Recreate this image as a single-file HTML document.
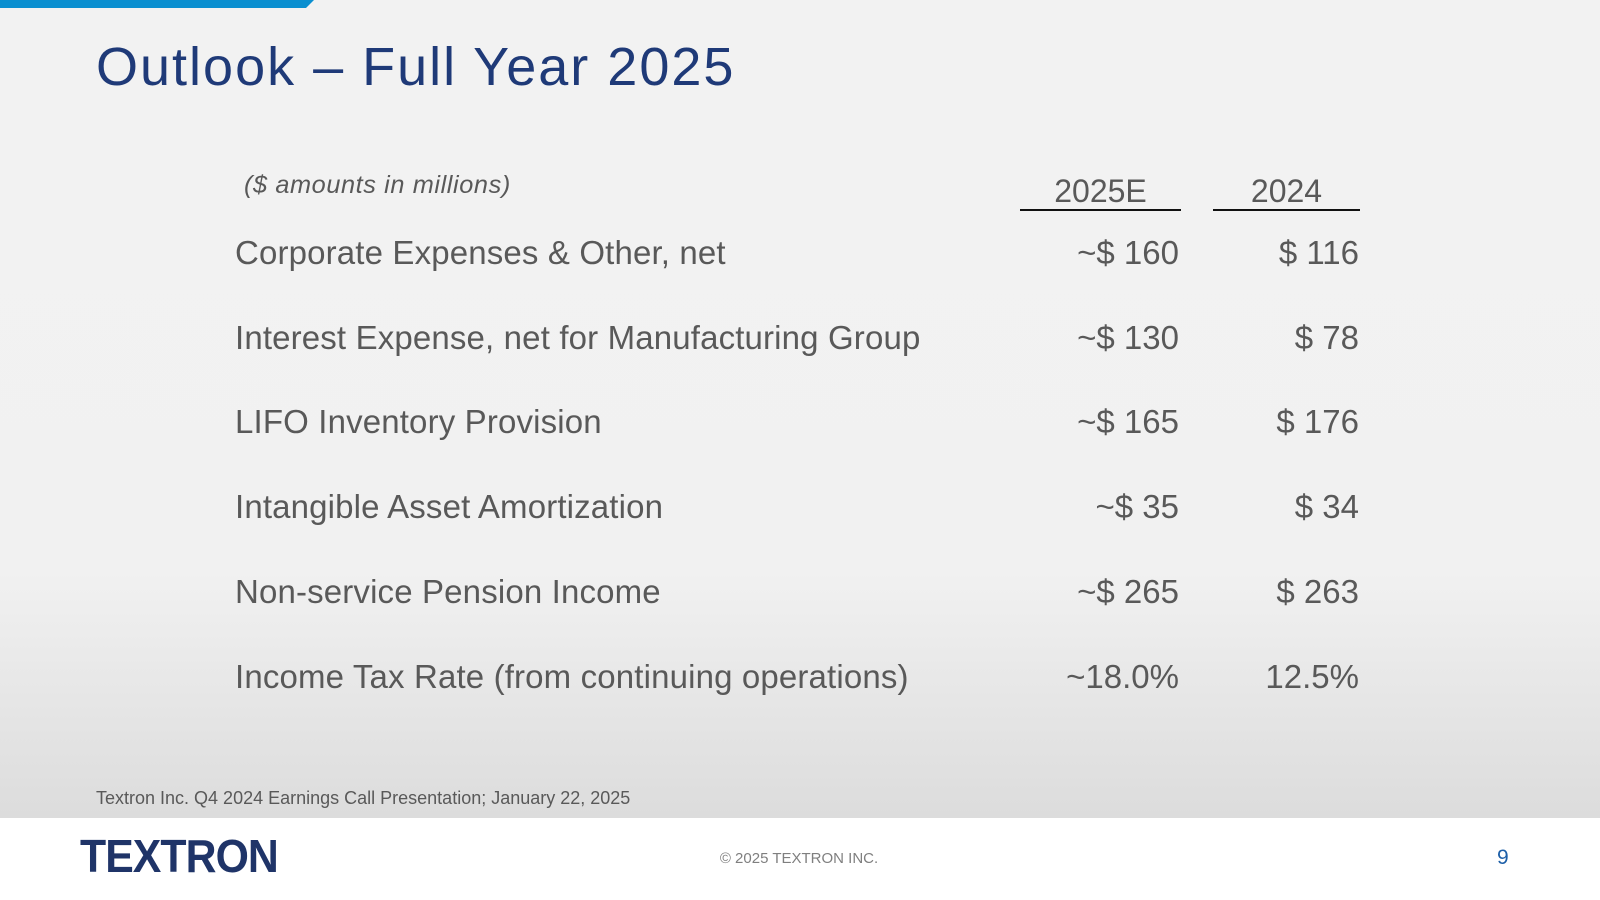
<!DOCTYPE html>
<html><head><meta charset="utf-8"><style>
body{margin:0;width:1600px;height:900px;overflow:hidden;font-family:"Liberation Sans",Arial,sans-serif;}
.bg{position:absolute;left:0;top:0;width:1600px;height:818px;background:linear-gradient(#f2f2f2 0%,#f1f1f1 70%,#dcdcdc 100%);}
.ft{position:absolute;left:0;top:818px;width:1600px;height:82px;background:#fff;}
.t{position:absolute;white-space:nowrap;}
.l{left:235px;font-size:33px;color:#595959;letter-spacing:0.15px;}
.v{font-size:33px;color:#595959;text-align:right;}
</style></head><body>
<div class="bg"></div><div class="ft"></div>
<svg style="position:absolute;left:0;top:0" width="330" height="10"><polygon points="0,0 314,0 306,8 0,8" fill="#0a8fd0"/></svg>
<div class="t" style="left:96px;top:36px;font-size:54px;color:#1f3a78;letter-spacing:2px;">Outlook – Full Year 2025</div>
<div class="t" style="left:244px;top:171px;font-size:25.3px;font-style:italic;color:#595959;letter-spacing:0.6px;">($ amounts in millions)</div>
<div class="t" style="left:1020px;width:161px;text-align:center;top:173px;font-size:32px;color:#595959;">2025E</div>
<div class="t" style="left:1213px;width:147px;text-align:center;top:173px;font-size:32px;color:#595959;">2024</div>
<div style="position:absolute;left:1020px;top:209px;width:161px;height:2px;background:#111"></div>
<div style="position:absolute;left:1213px;top:209px;width:147px;height:2px;background:#111"></div>

<div class="t l" style="top:234px">Corporate Expenses &amp; Other, net</div>
<div class="t v" style="top:234px;right:421px">~$ 160</div>
<div class="t v" style="top:234px;right:241px">$ 116</div>

<div class="t l" style="top:319px">Interest Expense, net for Manufacturing Group</div>
<div class="t v" style="top:319px;right:421px">~$ 130</div>
<div class="t v" style="top:319px;right:241px">$ 78</div>

<div class="t l" style="top:403px">LIFO Inventory Provision</div>
<div class="t v" style="top:403px;right:421px">~$ 165</div>
<div class="t v" style="top:403px;right:241px">$ 176</div>

<div class="t l" style="top:488px">Intangible Asset Amortization</div>
<div class="t v" style="top:488px;right:421px">~$ 35</div>
<div class="t v" style="top:488px;right:241px">$ 34</div>

<div class="t l" style="top:573px">Non-service Pension Income</div>
<div class="t v" style="top:573px;right:421px">~$ 265</div>
<div class="t v" style="top:573px;right:241px">$ 263</div>

<div class="t l" style="top:658px">Income Tax Rate (from continuing operations)</div>
<div class="t v" style="top:658px;right:421px">~18.0%</div>
<div class="t v" style="top:658px;right:241px">12.5%</div>

<div class="t" style="left:96px;top:788px;font-size:18px;color:#595959;">Textron Inc. Q4 2024 Earnings Call Presentation; January 22, 2025</div>
<div class="t" style="left:80px;top:829px;font-size:46px;font-weight:bold;color:#1f3468;letter-spacing:-1px;transform:scaleX(0.93);transform-origin:left;">TEXTRON</div>
<div class="t" style="left:699px;width:200px;text-align:center;top:850px;font-size:15px;color:#7f7f7f;">© 2025 TEXTRON INC.</div>
<div class="t" style="left:1497px;top:846px;font-size:21px;color:#1d5fa8;">9</div>
</body></html>
